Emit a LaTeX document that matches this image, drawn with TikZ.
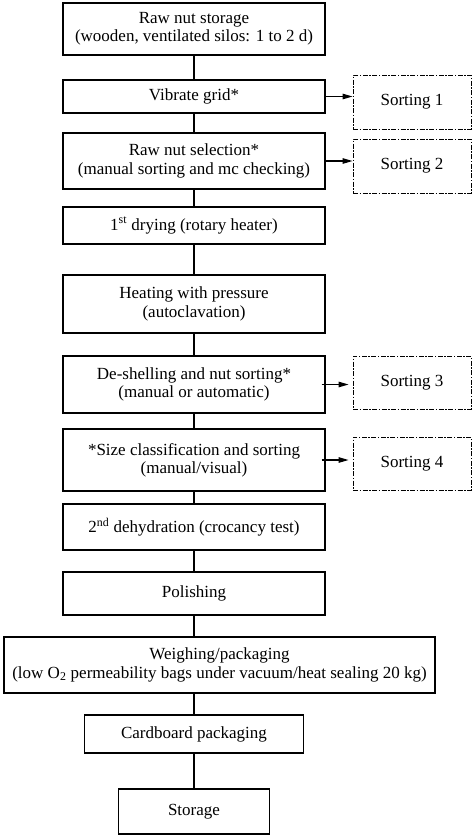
\documentclass[tikz,border=0pt]{standalone}
\usepackage{fontspec}
\setmainfont{Liberation Serif}
\usetikzlibrary{arrows.meta}
\begin{document}
\begin{tikzpicture}[x=1pt,y=-1pt,
  box/.style={draw, line width=1.1pt, inner sep=0pt, align=center, font=\fontsize{17}{18.3}\selectfont},
  sortbox/.style={draw, line width=0.9pt, dash pattern=on 5pt off 1.5pt on 1.5pt off 1.5pt, inner sep=0pt, minimum width=118pt, font=\fontsize{17}{18.3}\selectfont},
  link/.style={line width=1.1pt},
  arr/.style={line width=1.1pt, -{Triangle[length=10pt,width=5.5pt]}}]
\useasboundingbox (0,0) rectangle (474,839);
\node[box, minimum width=262pt, minimum height=52pt] (b1) at (194,29) {Raw nut storage\\(wooden, ventilated silos: 1 to 2 d)};
\node[box, minimum width=262pt, minimum height=33pt] (b2) at (194,96.5) {Vibrate grid*};
\node[sortbox, minimum height=54pt] (s1) at (412,102) {Sorting 1};
\node[box, minimum width=262pt, minimum height=56pt] (b3) at (194,161) {Raw nut selection*\\(manual sorting and mc checking)};
\node[sortbox, minimum height=54pt] (s2) at (412,166) {Sorting 2};
\node[box, minimum width=262pt, minimum height=37pt] (b4) at (194,225.5) {1\textsuperscript{st} drying (rotary heater)};
\node[box, minimum width=262pt, minimum height=58pt] (b5) at (194,304) {Heating with pressure\\(autoclavation)};
\node[box, minimum width=262pt, minimum height=57pt] (b6) at (194,384.5) {De-shelling and nut sorting*\\(manual or automatic)};
\node[sortbox, minimum height=53pt] (s3) at (412,382.5) {Sorting 3};
\node[box, minimum width=262pt, minimum height=62pt] (b7) at (194,460) {*Size classification and sorting\\(manual/visual)};
\node[sortbox, minimum height=53pt] (s4) at (412,463.5) {Sorting 4};
\node[box, minimum width=262pt, minimum height=46pt] (b8) at (194,527) {2\textsuperscript{nd} dehydration (crocancy test)};
\node[box, minimum width=262pt, minimum height=43pt] (b9) at (194,593.5) {Polishing};
\node[box, minimum width=431pt, minimum height=56pt] (b10) at (219.5,665) {Weighing/packaging\\(low O\textsubscript{2} permeability bags under vacuum/heat sealing 20 kg)};
\node[box, minimum width=219pt, minimum height=38pt] (b11) at (194,734) {Cardboard packaging};
\node[box, minimum width=151pt, minimum height=45pt] (b12) at (194,811.5) {Storage};
\draw[link] (b1) -- (b2);
\draw[link] (b2) -- (b3);
\draw[link] (b3) -- (b4);
\draw[link] (b4) -- (b5);
\draw[link] (b5) -- (b6);
\draw[link] (b6) -- (b7);
\draw[link] (b7) -- (b8);
\draw[link] (b8) -- (b9);
\draw[link] (b9.south) -- (b9.south |- b10.north);
\draw[link] (b11.north |- b10.south) -- (b11.north);
\draw[link] (b11) -- (b12);
\draw[arr] (b2.east) -- (s1.west |- b2.east);
\draw[arr] (b3.east) -- (s2.west |- b3.east);
\draw[arr] ([xshift=-4pt]b6.east) -- ([xshift=-4pt]s3.west |- b6.east);
\draw[arr] ([xshift=-4pt]b7.east) -- ([xshift=-4pt]s4.west |- b7.east);
\end{tikzpicture}
\end{document}
